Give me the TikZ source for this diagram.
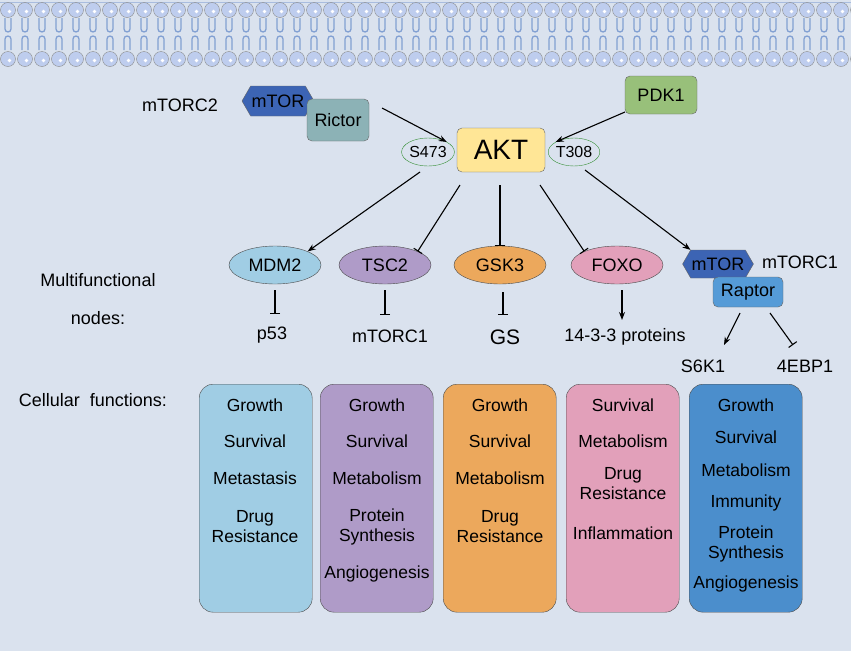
\documentclass[tikz,border=0pt]{standalone}
\usepackage{fontspec}
\setmainfont{Liberation Sans}
\usetikzlibrary{shapes.geometric,shapes.symbols,arrows.meta}
\definecolor{bg}{RGB}{218,226,238}
\definecolor{head}{RGB}{190,205,238}
\definecolor{tail}{RGB}{130,160,210}
\definecolor{mtorc}{RGB}{60,100,180}
\definecolor{ric}{RGB}{140,178,182}
\definecolor{pdk}{RGB}{152,192,122}
\definecolor{akt}{RGB}{255,230,150}
\definecolor{cA}{RGB}{160,205,228}
\definecolor{cB}{RGB}{175,155,200}
\definecolor{cC}{RGB}{236,168,92}
\definecolor{cD}{RGB}{226,160,186}
\definecolor{cE}{RGB}{75,142,204}
\definecolor{rap}{RGB}{85,155,215}
\begin{document}
\begin{tikzpicture}[x=1pt,y=-1pt,
 lbl/.style={font=\fontsize{18}{20}\selectfont},
 hexa/.style={signal,signal to=west and east,signal pointer angle=120,draw=black!60,minimum width=72,minimum height=30,inner sep=1,font=\fontsize{18}{20}\selectfont},
 boxn/.style={draw=black!60,rounded corners=5,font=\fontsize{18}{20}\selectfont,inner sep=0},
 ell/.style={ellipse,draw=black!70,minimum width=92,minimum height=38,inner sep=0,font=\fontsize{18}{20}\selectfont},
 site/.style={ellipse,draw=black!40!green!60!gray,minimum width=50,minimum height=28,inner sep=0,font=\fontsize{16}{18}\selectfont},
 act/.style={-{Stealth[length=8pt]},line width=1.1pt},
 inh/.style={-{Bar[width=10pt]},line width=1.1pt},
 fbox/.style={draw=black!70,rounded corners=14,minimum width=113,minimum height=228,anchor=north west},
 ftxt/.style={align=center,font=\fontsize{17.5}{20}\selectfont}]
\fill[bg] (0,0) rectangle (851,651);
\useasboundingbox (0,0) rectangle (851,651);
% membrane
\draw[tail!70,line width=0.8pt] (0,2) -- (851,2);
\foreach \i in {0,...,50}{
  \pgfmathsetmacro\xx{8+17*\i}
  \draw[tail,line width=1.3pt] (\xx-3,18) -- (\xx-3,29) arc[start angle=180,end angle=0,radius=3] -- (\xx+3,18);
  \draw[tail,line width=1.3pt] (\xx-3,50) -- (\xx-3,39) arc[start angle=180,end angle=360,radius=3] -- (\xx+3,50);
  \foreach \yy in {10,59}{
  \fill[head] (\xx,\yy) circle (7.5);
  \fill[white] (\xx+1.5,\yy+1.5) circle (1.8);
  \draw[black!45] (\xx,\yy) circle (7.5);}
}
% top
\node[lbl] (m2) at (180,105) {mTORC2};
\node[hexa,fill=mtorc] (mtor2) at (278,101) {mTOR};
\node[boxn,fill=ric,minimum width=62,minimum height=42] (ric) at (338,120) {Rictor};
\node[boxn,fill=pdk,minimum width=72,minimum height=38] (pdk) at (661,95) {PDK1};
\node[boxn,fill=akt,minimum width=88,minimum height=44,font=\fontsize{28}{30}\selectfont] (akt) at (501,150) {AKT};
\node[site,fill=bg] (s473) at (428,152) {S473};
\node[site,fill=bg] (t308) at (574,152) {T308};
\coordinate (r1) at (382,108); \coordinate (p1) at (625,112);
\draw[act] (r1) -- (s473.north east);
\draw[act] (p1) -- (t308.north west);
% second row
\node[ell,fill=cA] (mdm) at (275,265) {MDM2};
\node[ell,fill=cB] (tsc) at (385,265) {TSC2};
\node[ell,fill=cC] (gsk) at (500,265) {GSK3};
\node[ell,fill=cD] (foxo) at (617,265) {FOXO};
\node[hexa,fill=mtorc,minimum width=70,minimum height=28] (mtor1) at (718,264) {mTOR};
\node[lbl] (m1) at (800,262) {mTORC1};
\node[boxn,fill=rap,minimum width=70,minimum height=30] (rap) at (748,292) {Raptor};
\coordinate (a1) at (420,172); \coordinate (a2) at (460,185); \coordinate (a3) at (500,185);
\coordinate (a4) at (540,185); \coordinate (a5) at (585,170);
\draw[act] (a1) -- (mdm.north east);
\draw[inh] (a2) -- (tsc.north east);
\draw[inh] (a3) -- (gsk.north);
\draw[inh] (a4) -- (foxo.north west);
\draw[act] (a5) -- (mtor1.north west);
% targets
\node[lbl] (p53) at (272,335) {p53};
\node[lbl] (mt1) at (390,336) {mTORC1};
\node[lbl,font=\fontsize{21}{23}\selectfont] (gs) at (505,337) {GS};
\node[lbl] (p14) at (625,337) {14-3-3 proteins};
\node[lbl] (s6k) at (703,366) {S6K1};
\node[lbl] (ebp) at (805,366) {4EBP1};
\coordinate (b1) at (275,290); \coordinate (b2) at (385,290);
\coordinate (b3) at (503,292); \coordinate (b4) at (622,290);
\draw[inh] (b1) -- (275,314);
\draw[inh] (b2) -- (385,315);
\draw[inh] (b3) -- (503,315);
\draw[act] (b4) -- (622,320);
\coordinate (c1) at (740,313); \coordinate (c2) at (770,313);
\draw[act] (c1) -- (724,345);
\draw[inh] (c2) -- (793,345);
% left labels
\node[lbl] (mf) at (98,280) {Multifunctional};
\node[lbl] (nd) at (98,318) {nodes:};
\node[lbl] (cf) at (93,400) {Cellular\ \ functions:};
% boxes
\node[fbox,fill=cA] (f1) at (199,384) {};
\node[fbox,fill=cB] (f2) at (320,384) {};
\node[fbox,fill=cC] (f3) at (443,384) {};
\node[fbox,fill=cD] (f4) at (566,384) {};
\node[fbox,fill=cE] (f5) at (689,384) {};
\foreach \t/\y in {Growth/405,Survival/441,Metastasis/478,{Drug\\Resistance}/527}
  \node[ftxt] at (255,\y) {\t};
\foreach \t/\y in {Growth/405,Survival/441,Metabolism/478,{Protein\\Synthesis}/527,Angiogenesis/574}
  \node[ftxt] at (377,\y) {\t};
\foreach \t/\y in {Growth/405,Survival/441,Metabolism/478,{Drug\\Resistance}/527}
  \node[ftxt] at (500,\y) {\t};
\foreach \t/\y in {Survival/405,Metabolism/441,{Drug\\Resistance}/484,Inflammation/533}
  \node[ftxt] at (623,\y) {\t};
\foreach \t/\y in {Growth/405,Survival/437,Metabolism/470,Immunity/503,{Protein\\Synthesis}/544,Angiogenesis/584}
  \node[ftxt] at (746,\y) {\t};
\end{tikzpicture}
\end{document}
